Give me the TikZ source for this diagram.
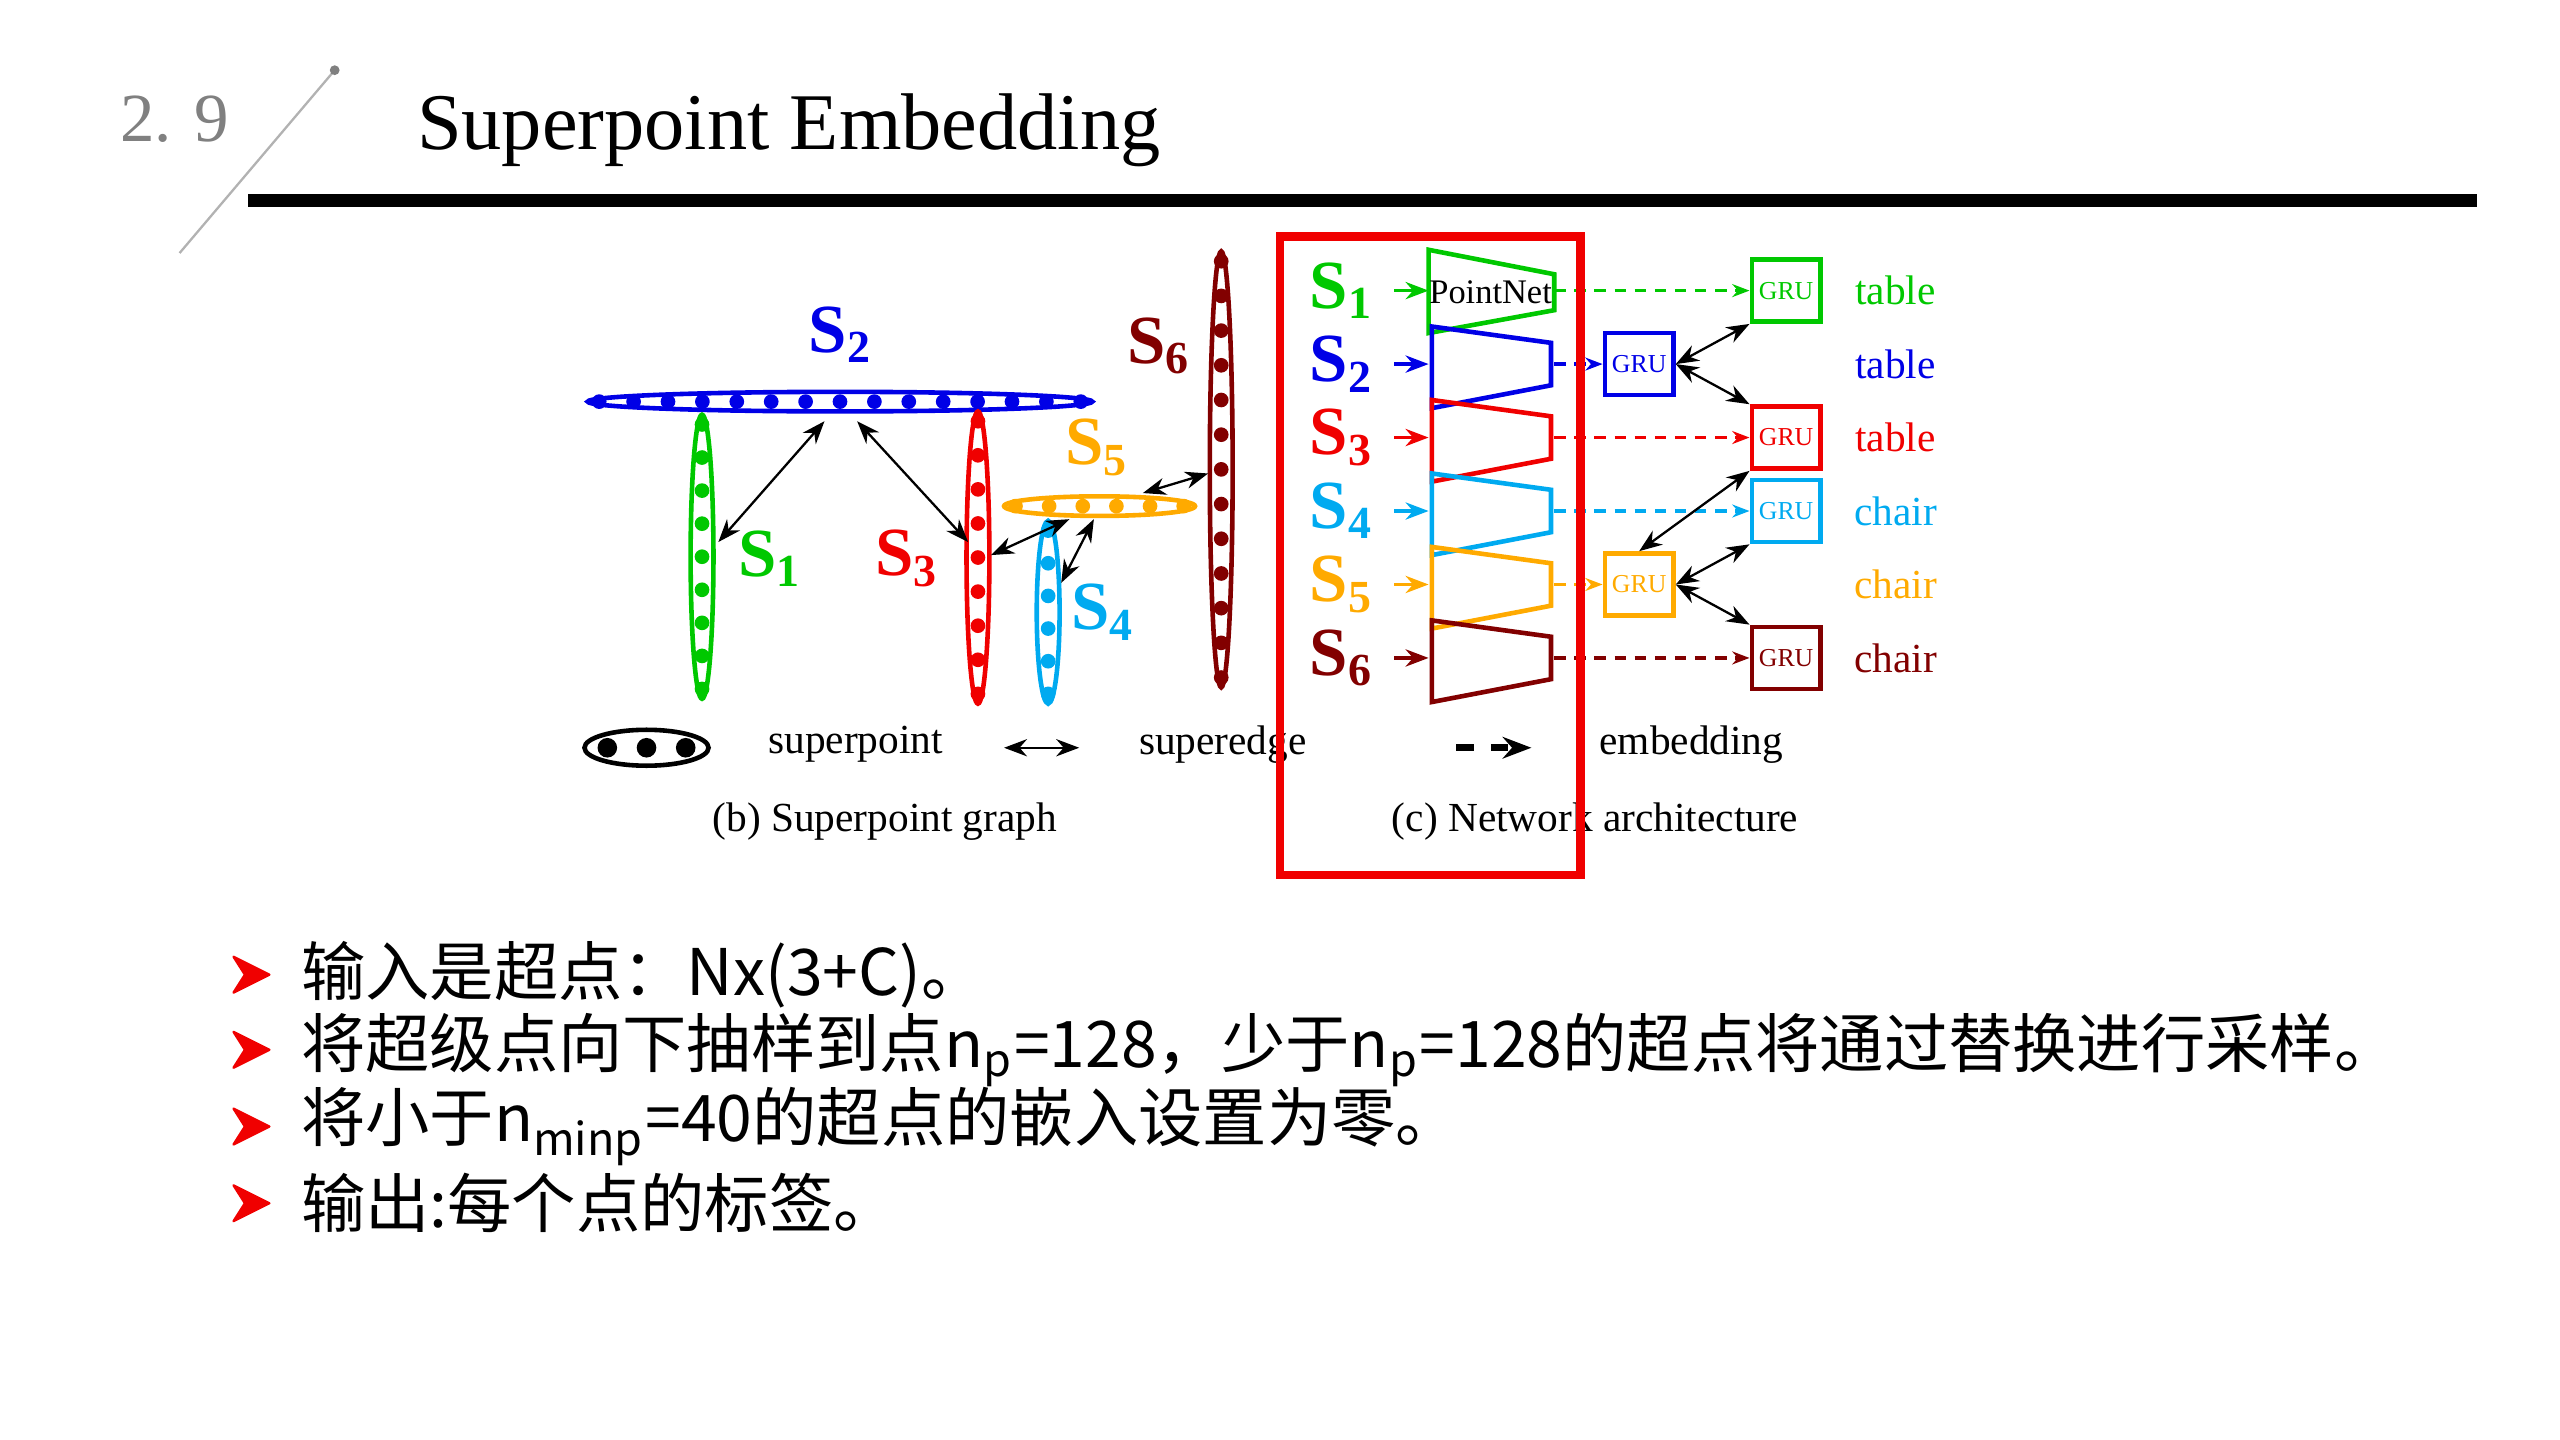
\documentclass[tikz,border=0pt]{standalone}
\usepackage{fontspec}
\setmainfont{Liberation Serif}
\newfontfamily\cjk{Noto Sans CJK SC}
\usetikzlibrary{arrows.meta}
\definecolor{cgreen}{RGB}{0,200,0}
\definecolor{cblue}{RGB}{0,0,230}
\definecolor{cred}{RGB}{240,0,0}
\definecolor{ccyan}{RGB}{0,170,240}
\definecolor{corange}{RGB}{255,170,0}
\definecolor{cdark}{RGB}{130,0,0}
\tikzset{
  edge/.style={<->,>={Stealth[length=4pt]},thin},
  slab/.style={font=\fontsize{12}{12}\selectfont\bfseries},
  txt/.style={font=\fontsize{7.2}{8}\selectfont},
  gru/.style={draw,thick,minimum width=0.42cm,minimum height=0.38cm,inner sep=0pt,font=\fontsize{4.5}{5}\selectfont},
  emb/.style={dash pattern=on 2pt off 1.5pt,semithick,->,>={Stealth[length=3pt]}},
  bul/.style={anchor=west,font=\cjk\fontsize{11.2}{12}\selectfont},
}
\newcommand{\sname}[1]{S\textsubscript{\bfseries #1}}
\newcommand{\spv}[5]{% vertical superpoint: color, x, y1, y2, count
  \pgfmathsetmacro{\cy}{(#3+#4)/2}\pgfmathsetmacro{\ry}{(#4-#3)/2+6}
  \draw[#1,thick] (#2,\cy) ellipse [x radius=7,y radius=\ry];
  \foreach \k in {0,...,#5}{\fill[#1] (#2,{#3+\k*(#4-#3)/#5}) circle (4.5);}}
\newcommand{\sph}[5]{% horizontal superpoint: color, y, x1, x2, count
  \pgfmathsetmacro{\cx}{(#3+#4)/2}\pgfmathsetmacro{\rx}{(#4-#3)/2+7}
  \draw[#1,thick] (\cx,#2) ellipse [x radius=\rx,y radius=6];
  \foreach \k in {0,...,#5}{\fill[#1] ({#3+\k*(#4-#3)/#5},#2) circle (4.5);}}
\begin{document}
\begin{tikzpicture}[x=0.01cm,y=-0.01cm]
\useasboundingbox (0,0) rectangle (1568,882);
% title
\node (num) at (107,73) {\fontsize{12}{12}\selectfont\color{gray}2. 9};
\draw[gray!60] (110,155) -- (205,43);
\fill[gray] (205,43) circle (3);
\node (title) [anchor=west] at (243,80) {\fontsize{14}{14}\selectfont Superpoint Embedding};
\draw[line width=2.2pt] (152,123) -- (1517,123);
% (b) superpoint graph
\sph{cblue}{246}{367}{662}{14}
\spv{cgreen}{430}{260}{422}{8}
\spv{cred}{599}{258}{425}{8}
\spv{ccyan}{642}{325}{425}{5}
\sph{corange}{310}{622}{725}{5}
\spv{cdark}{748}{160}{415}{12}
\node (s2) [slab,cblue] at (515,205) {\sname{2}};
\node (s1) [slab,cgreen] at (472,342) {\sname{1}};
\node (s3) [slab,cred] at (556,342) {\sname{3}};
\node (s4) [slab,ccyan] at (676,375) {\sname{4}};
\node (s5) [slab,corange] at (672,274) {\sname{5}};
\node (s6) [slab,cdark] at (710,212) {\sname{6}};
\coordinate (a1) at (440,332); \coordinate (a2) at (505,258);
\coordinate (b1) at (525,258); \coordinate (b2) at (593,332);
\coordinate (c1) at (607,340); \coordinate (c2) at (655,318);
\coordinate (d1) at (650,357); \coordinate (d2) at (670,318);
\coordinate (e1) at (700,302); \coordinate (e2) at (740,290);
\draw[edge] (a1) -- (a2);
\draw[edge] (b1) -- (b2);
\draw[edge] (c1) -- (c2);
\draw[edge] (d1) -- (d2);
\draw[edge] (e1) -- (e2);
% legend
\draw[thick] (396,458) ellipse [x radius=38,y radius=11];
\foreach \x in {372,396,420} \fill (\x,458) circle (6);
\node (lsp) [txt] at (524,456) {superpoint};
\coordinate (l1) at (615,458); \coordinate (l2) at (661,458);
\draw[edge] (l1) -- (l2);
\node (lse) [txt] at (749,456) {superedge};
\coordinate (m1) at (892,458); \coordinate (m2) at (938,458);
\draw[dashed,very thick,->,>={Stealth[length=5pt]}] (m1) -- (m2);
\node (lem) [txt] at (1036,456) {embedding};
\node (capb) [txt] at (542,503) {(b) Superpoint graph};
\node (capc) [txt] at (977,503) {(c) Network architecture};
% (c) network
\draw[cgreen,thick] (875,153) -- (952,168) -- (952,190) -- (875,204) -- cycle;
\node (pn) at (913,179) {\fontsize{6}{6}\selectfont PointNet};
\foreach \c/\y/\i in {cblue/223/2,cred/268/3,ccyan/313/4,corange/358/5,cdark/403/6}
  \draw[\c,thick] (877,\y-23) -- (950,\y-13) -- (950,\y+13) -- (877,\y+27) -- cycle;
\foreach \c/\y/\i in {cgreen/178/1,cblue/223/2,cred/268/3,ccyan/313/4,corange/358/5,cdark/403/6}{
  \node (n\i) [slab,\c] at (822,\y) {\sname{\i}};
  \coordinate (t\i) at (875,\y);
  \draw[\c,semithick,->,>={Stealth[length=4pt]}] (n\i) -- (t\i);
}
\node (g1) [gru,cgreen] at (1094,178) {GRU};
\node (g2) [gru,cblue] at (1004,223) {GRU};
\node (g3) [gru,cred] at (1094,268) {GRU};
\node (g4) [gru,ccyan] at (1094,313) {GRU};
\node (g5) [gru,corange] at (1004,358) {GRU};
\node (g6) [gru,cdark] at (1094,403) {GRU};
\foreach \c/\y/\i in {cgreen/178/1,cblue/223/2,cred/268/3,ccyan/313/4,corange/358/5,cdark/403/6}{
  \coordinate (o\i) at (952,\y);
  \draw[emb,\c] (o\i) -- (g\i);
}
\draw[edge] (g2.east) -- (g1.south west);
\draw[edge] (g2.east) -- (g3.north west);
\draw[edge] (g5.east) -- (g4.south west);
\draw[edge] (g5.east) -- (g6.north west);
\draw[edge] (g3.south west) -- (g5.north);
\foreach \c/\y/\w in {cgreen/178/table,cblue/223/table,cred/268/table,ccyan/313/chair,corange/358/chair,cdark/403/chair}
  \node (lab\y) [txt,\c] at (1161,\y) {\w};
\draw[cred,line width=1.5pt] (784,145) rectangle (968,536);
% bullets
\foreach \y in {597,643,690,737}
  \draw[cred,fill=cred,line join=round] (143,\y-11) -- (165,\y) -- (143,\y+11) -- (150,\y) -- cycle;
\node (t1) [bul] at (172,597) {输入是超点：Nx(3+C)。};
\node (t2) [bul] at (172,643) {将超级点向下抽样到点n\textsubscript{p}=128，少于n\textsubscript{p}=128的超点将通过替换进行采样。};
\node (t3) [bul] at (172,690) {将小于n\textsubscript{minp}=40的超点的嵌入设置为零。};
\node (t4) [bul] at (172,737) {输出:每个点的标签。};
\end{tikzpicture}
\end{document}
